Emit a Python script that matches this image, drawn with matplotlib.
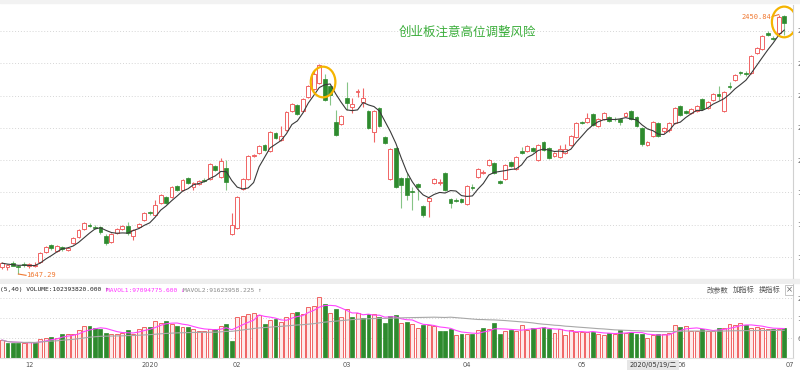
import matplotlib
matplotlib.use("Agg")
import matplotlib.pyplot as plt
import matplotlib.patches as mpatches
import numpy as np
import pandas as pd

# ── data ──────────────────────────────────────────────────────────────────────
opens = [1668, 1668, 1682, 1671, 1678, 1671, 1672, 1684, 1715, 1737,
         1718, 1730, 1721, 1743, 1761, 1786, 1800, 1794, 1792, 1765,
         1746, 1774, 1786, 1796, 1765, 1792, 1814, 1838, 1830, 1867,
         1885, 1885, 1919, 1907, 1944, 1916, 1926, 1938, 1941, 1981,
         1947, 1975, 1771, 1789, 1910, 1941, 2013, 2022, 2047, 2028,
         2084, 2062, 2093, 2152, 2171, 2152, 2195, 2220, 2239, 2251,
         2230, 2118, 2111, 2192, 2164, 2210, 2180, 2152, 2087, 2161,
         2071, 1941, 2037, 1944, 1944, 1903, 1925, 1857, 1873, 1929,
         1929, 1960, 1879, 1877, 1879, 1864, 1918, 1947, 1961, 1984,
         1991, 1935, 1941, 1994, 1972, 2028, 2028, 2037, 2000, 2056,
         2037, 2012, 2009, 2022, 2047, 2071, 2118, 2118, 2143, 2105,
         2127, 2133, 2128, 2127, 2136, 2152, 2133, 2099, 2047, 2074,
         2115, 2090, 2093, 2115, 2167, 2152, 2146, 2152, 2189, 2161,
         2186, 2205, 2152, 2229, 2248, 2273, 2270, 2270, 2332, 2344,
         2394, 2378, 2394, 2447]
highs = [1686, 1678, 1688, 1674, 1684, 1680, 1684, 1715, 1734, 1740,
         1737, 1735, 1731, 1763, 1786, 1808, 1806, 1800, 1795, 1770,
         1774, 1790, 1800, 1808, 1787, 1805, 1840, 1843, 1876, 1895,
         1888, 1920, 1922, 1941, 1948, 1932, 1938, 1944, 1991, 1984,
         2006, 2000, 1836, 1888, 1944, 2015, 2020, 2046, 2050, 2090,
         2087, 2105, 2152, 2177, 2174, 2192, 2233, 2279, 2298, 2267,
         2233, 2155, 2139, 2241, 2192, 2220, 2223, 2155, 2155, 2164,
         2074, 2037, 2040, 1947, 1960, 1916, 1928, 1860, 1885, 1944,
         1941, 1963, 1882, 1882, 1882, 1922, 1925, 1975, 1969, 2003,
         1994, 1938, 1988, 1997, 2012, 2040, 2046, 2040, 2050, 2059,
         2040, 2025, 2046, 2050, 2078, 2118, 2121, 2146, 2146, 2130,
         2149, 2136, 2133, 2130, 2149, 2155, 2136, 2102, 2059, 2121,
         2118, 2102, 2118, 2164, 2171, 2155, 2161, 2170, 2192, 2183,
         2208, 2229, 2214, 2241, 2267, 2276, 2276, 2326, 2350, 2387,
         2400, 2384, 2450.84, 2449]
lows = [1664, 1659, 1675, 1647.29, 1670, 1667, 1668, 1682, 1712, 1722,
        1715, 1720, 1718, 1740, 1758, 1783, 1792, 1787, 1772, 1738,
        1743, 1771, 1783, 1768, 1752, 1789, 1810, 1830, 1826, 1864,
        1864, 1882, 1904, 1904, 1926, 1907, 1922, 1932, 1938, 1966,
        1944, 1907, 1768, 1786, 1907, 1938, 2009, 2019, 2028, 2025,
        2065, 2059, 2090, 2149, 2139, 2149, 2192, 2217, 2235, 2183,
        2171, 2075, 2108, 2155, 2145, 2195, 2164, 2096, 2056, 2102,
        2050, 1938, 1913, 1851, 1876, 1845, 1876, 1823, 1823, 1926,
        1922, 1904, 1851, 1870, 1866, 1860, 1907, 1944, 1958, 1981,
        1956, 1926, 1938, 1978, 1969, 2018, 2025, 2025, 1997, 2028,
        2003, 2009, 2006, 2018, 2043, 2068, 2111, 2115, 2105, 2102,
        2124, 2118, 2121, 2108, 2133, 2124, 2102, 2043, 2043, 2071,
        2071, 2084, 2087, 2111, 2136, 2143, 2143, 2149, 2155, 2158,
        2183, 2186, 2149, 2220, 2245, 2264, 2261, 2267, 2329, 2341,
        2384, 2372, 2391, 2388]
closes = [1681, 1675, 1673, 1668, 1676, 1677, 1674, 1712, 1730, 1727,
          1734, 1724, 1727, 1758, 1783, 1805, 1797, 1791, 1777, 1743,
          1771, 1786, 1796, 1774, 1783, 1801, 1836, 1835, 1861, 1892,
          1867, 1916, 1907, 1938, 1929, 1929, 1935, 1936, 1988, 1969,
          1997, 1932, 1799, 1885, 1941, 2012, 2016, 2043, 2031, 2087,
          2068, 2074, 2149, 2174, 2143, 2189, 2230, 2267, 2295, 2186,
          2202, 2078, 2136, 2177, 2174, 2213, 2192, 2099, 2152, 2105,
          2053, 2034, 1916, 1923, 1892, 1901, 1916, 1829, 1882, 1941,
          1932, 1907, 1867, 1875, 1870, 1919, 1915, 1972, 1964, 2000,
          1960, 1929, 1985, 1982, 2009, 2022, 2043, 2028, 2047, 2031,
          2006, 2022, 2034, 2034, 2074, 2115, 2115, 2130, 2108, 2127,
          2146, 2121, 2127, 2118, 2146, 2127, 2105, 2050, 2056, 2118,
          2074, 2099, 2115, 2161, 2139, 2146, 2158, 2167, 2158, 2180,
          2205, 2198, 2211, 2226, 2264, 2270, 2267, 2322, 2347, 2384,
          2388, 2375, 2443, 2424]
# volume in millions
volumes = [61, 51, 51, 51, 51, 55, 51, 65, 68, 72,
           68, 82, 82, 82, 95, 109, 109, 102, 99, 85,
           82, 82, 85, 95, 82, 99, 106, 106, 126, 119,
           126, 116, 109, 106, 106, 99, 92, 92, 99, 99,
           109, 116, 58, 140, 143, 150, 153, 147, 116, 130,
           133, 123, 140, 153, 157, 150, 174, 177, 208, 184,
           153, 167, 140, 167, 140, 153, 136, 150, 150, 140,
           119, 143, 147, 119, 123, 116, 102, 113, 113, 109,
           92, 92, 99, 78, 82, 82, 82, 95, 102, 99,
           119, 82, 92, 95, 92, 113, 95, 102, 102, 106,
           99, 85, 99, 78, 95, 89, 89, 89, 89, 82,
           78, 85, 82, 95, 85, 89, 82, 82, 68, 78,
           82, 82, 85, 113, 106, 109, 92, 92, 99, 92,
           92, 102, 102, 116, 113, 119, 113, 102, 106, 102,
           99, 99, 99, 102.39382]

month_ticks = [5, 27, 43, 63, 85, 106, 124.3, 144]
month_labels = ["12", "2020", "02", "03", "04", "05", "06", "07"]
price_grid = [1700, 1800, 1900, 2000, 2100, 2200, 2300, 2400]
vol_grid = [68, 136, 204]

TITLE = "创业板注意高位调整风险"
RED, GREEN, GREEN_W = "#f06464", "#2e8b2e", "#86c486"

W, H = 800, 372


def fy(py):
    return 1 - py / H


df = pd.DataFrame({"o": opens, "h": highs, "l": lows, "c": closes, "v": volumes})
x = np.arange(len(df))
up = df.c >= df.o
vol_up = df.c >= df.c.shift(1).fillna(df.o)   # 成交量按涨跌(对比昨收)着色
ma5 = df.c.rolling(5, min_periods=1).mean()
mavol1 = df.v.rolling(5, min_periods=1).mean()
mavol2 = df.v.rolling(40, min_periods=1).mean()

plt.rcParams["font.family"] = ["DejaVu Sans", "Noto Sans CJK SC"]
fig = plt.figure(figsize=(W / 100, H / 100), dpi=100)
fig.patch.set_facecolor("white")

xlim = (-2 / 5.47, 791 / 5.47)

# ── K线 ───────────────────────────────────────────────────────────────────────
ax = fig.add_axes([0, fy(278), 793 / W, (278 - 5) / H])
ax.set_xlim(*xlim)
ax.set_ylim(1635, 2480.5)
for p in price_grid:
    ax.axhline(p, color="#d6d6d6", lw=0.7, ls=(0, (1, 2)), zorder=0)

ax.vlines(x[up], df.l[up], df.h[up], color=RED, lw=0.8, zorder=1)
ax.vlines(x[~up], df.l[~up], df.h[~up], color=GREEN_W, lw=0.8, zorder=1)
body_lo = np.minimum(df.o, df.c)
body_h = np.maximum((df.c - df.o).abs(), 1.5)
ax.bar(x[up], body_h[up], bottom=body_lo[up], width=0.7,
       facecolor="white", edgecolor=RED, lw=0.7, zorder=2)
ax.bar(x[~up], body_h[~up], bottom=body_lo[~up], width=0.7,
       facecolor=GREEN, edgecolor=GREEN, lw=0.5, zorder=2)
ax.plot(x, ma5, color="#3a3a3a", lw=0.8, zorder=3)

# 最高/最低价标注
i_lo = int(np.argmin(df.l))
i_hi = int(np.argmax(df.h))
ax.plot([i_lo, i_lo + 1.4], [df.l[i_lo], df.l[i_lo] - 4], color="#f07830", lw=0.8)
ax.text(i_lo + 1.5, df.l[i_lo] - 4, f"{df.l[i_lo]:.2f}", color="#f07830",
        fontsize=5, ha="left", va="center", family="DejaVu Sans Mono")
ax.plot([i_hi - 1.2, i_hi], [df.h[i_hi] - 6, df.h[i_hi]], color="#f07830", lw=0.8)
ax.text(i_hi - 1.3, df.h[i_hi] - 6, f"{df.h[i_hi]:.2f}", color="#f07830",
        fontsize=5, ha="right", va="center", family="DejaVu Sans Mono")

ax.text(85, 2395, TITLE, color="#3cae3c", fontsize=9, ha="center", va="center",
        family=["Noto Sans CJK SC"])

for cx, cy in [(58.7, 2242), (143, 2428)]:
    ax.add_patch(mpatches.Ellipse((cx, cy), 4.5, 95, fill=False,
                                  edgecolor="#f5b400", lw=1.6, zorder=5))

for s in ["top", "left", "bottom"]:
    ax.spines[s].set_visible(False)
ax.spines["right"].set_color("#d0d0d0")
ax.set_xticks([])
ax.yaxis.tick_right()
ax.set_yticks(price_grid)
ax.set_yticklabels([f"{p:.2f}" for p in price_grid], fontsize=5, color="#666666")
ax.tick_params(axis="y", length=0, pad=3)

# ── 成交量 ────────────────────────────────────────────────────────────────────
vax = fig.add_axes([0, fy(358), 793 / W, (358 - 284) / H])
vax.set_xlim(*xlim)
vax.set_ylim(0, 252)
for v in vol_grid:
    vax.axhline(v, color="#d6d6d6", lw=0.7, ls=(0, (1, 2)), zorder=0)
vax.bar(x[vol_up], df.v[vol_up], width=0.72, facecolor="#fdeaea",
        edgecolor=RED, lw=0.7, zorder=2)
vax.bar(x[~vol_up], df.v[~vol_up], width=0.72, facecolor=GREEN,
        edgecolor=GREEN, lw=0.5, zorder=2)
vax.plot(x, mavol1, color="#ff44ff", lw=0.8, zorder=3)
vax.plot(x, mavol2, color="#a8a8a8", lw=0.8, zorder=3)
for s in ["top", "left"]:
    vax.spines[s].set_visible(False)
vax.spines["right"].set_color("#d0d0d0")
vax.spines["bottom"].set_color("#e0e0e0")
vax.yaxis.tick_right()
vax.set_yticks(vol_grid)
vax.set_yticklabels([f"{v * 1e6:.0f}" for v in vol_grid], fontsize=5, color="#666666")
vax.tick_params(axis="y", length=0, pad=3)
vax.set_xticks(month_ticks)
vax.set_xticklabels(month_labels, fontsize=4.8, color="#555555")
vax.tick_params(axis="x", length=0, pad=3)

# 指标栏
mono = "DejaVu Sans Mono"
fig.text(0 / W, fy(290), "(5,40) VOLUME:102393820.000 ↑", fontsize=4.5,
         family=mono, color="#222222", va="center")
fig.text(106 / W, fy(290), "MAVOL1:97094775.600 ↓", fontsize=4.5,
         family=mono, color="#ff33ff", va="center")
fig.text(183 / W, fy(290), "MAVOL2:91623958.225 ↑", fontsize=4.5,
         family=mono, color="#888888", va="center")
for xp, t in [(707, "改参数"), (733, "加指标"), (759, "换指标")]:
    fig.text(xp / W, fy(290), t, fontsize=5.2, color="#555555", va="center",
             family=["Noto Sans CJK SC"])
fig.text(789 / W, fy(290), "×", fontsize=6, color="#666666", va="center",
         ha="center", bbox=dict(boxstyle="square,pad=0.1", fc="white", ec="#bbbbbb", lw=0.6))

# 分隔条
fig.add_artist(mpatches.Rectangle((0, fy(3)), 1, 3 / H, transform=fig.transFigure,
                                  color="#f2f2f2", zorder=0))
fig.add_artist(mpatches.Rectangle((0, fy(283)), 1, 4 / H, transform=fig.transFigure,
                                  color="#eeeeee", zorder=0))

# 十字光标日期框
fig.text(653 / W, fy(365), "2020/05/19/二", fontsize=4.8, color="#333333",
         ha="center", va="center", zorder=10,
         bbox=dict(boxstyle="square,pad=0.3", fc="#e6e6e6", ec="none"))

fig.savefig("out.png", dpi=100)
